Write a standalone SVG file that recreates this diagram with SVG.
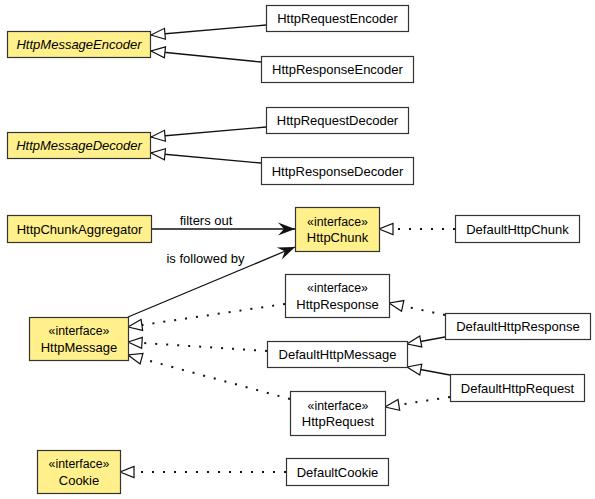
<svg xmlns="http://www.w3.org/2000/svg" width="595" height="499" viewBox="0 0 595 499">
<style>
text{font-family:"Liberation Sans",Arial,sans-serif;font-size:13px;fill:#000;text-anchor:middle}
.st{font-size:12.3px}
.it{font-style:italic}
.cls{fill:#fff;stroke:#333;stroke-width:1.2}
.ifc{fill:#fff08c;stroke:#333;stroke-width:1.2}
.e{fill:none;stroke:#111;stroke-width:1.3}
.d{fill:none;stroke:#111;stroke-width:2;stroke-dasharray:2 9}
.gen{marker-end:url(#tri)}
.dep{marker-end:url(#vee)}
</style>
<defs>
<marker id="tri" viewBox="-16 -8 18 16" refX="0" refY="0" markerWidth="18" markerHeight="16" markerUnits="userSpaceOnUse" orient="auto">
<path d="M0,0 L-14,-5.5 L-14,5.5 Z" fill="#fff" stroke="#111" stroke-width="1.2" stroke-dasharray="none"/>
</marker>
<marker id="vee" viewBox="-19 -9 21 18" refX="0" refY="0" markerWidth="21" markerHeight="18" markerUnits="userSpaceOnUse" orient="auto">
<path d="M0,0 L-17,-6.5 L-11,0 L-17,6.5 Z" fill="#111"/>
</marker>
</defs>
<g id="connectors">
<path class="e gen" d="M266,25 L151,35"/>
<path class="e gen" d="M261,62 L151,51"/>
<path class="e gen" d="M266,127 L151,137"/>
<path class="e gen" d="M261,163 L151,153"/>
<path class="e dep" d="M151,229 L295,229"/>
<text x="206" y="225">filters out</text>
<path class="e dep" d="M128,317 L295,247"/>
<text x="205.5" y="263">is followed by</text>
<path class="d gen" d="M455,229 L379,229"/>
<path class="d gen" d="M285,304 L128,327"/>
<path class="d gen" d="M267,351 L128,342"/>
<path class="d gen" d="M290,399 L128,355"/>
<path class="d gen" d="M445,315 L389,303"/>
<path class="e gen" d="M445,337 L407,344"/>
<path class="e gen" d="M450,375 L407,367"/>
<path class="d gen" d="M450,397 L385,407"/>
<path class="d gen" d="M286,472 L120,472"/>
</g>
<g id="HttpMessageEncoder"><rect class="ifc" x="7.5" y="31.5" width="143" height="26"/><text class="it" x="79" y="49">HttpMessageEncoder</text></g>
<g id="HttpMessageDecoder"><rect class="ifc" x="7.5" y="132.5" width="143" height="26"/><text class="it" x="79" y="150">HttpMessageDecoder</text></g>
<g id="HttpRequestEncoder"><rect class="cls" x="266.5" y="5.5" width="142" height="26"/><text x="337.5" y="23">HttpRequestEncoder</text></g>
<g id="HttpResponseEncoder"><rect class="cls" x="261.5" y="56.5" width="152" height="26"/><text x="337.5" y="74">HttpResponseEncoder</text></g>
<g id="HttpRequestDecoder"><rect class="cls" x="266.5" y="107.5" width="142" height="26"/><text x="337.5" y="125">HttpRequestDecoder</text></g>
<g id="HttpResponseDecoder"><rect class="cls" x="261.5" y="157.5" width="152" height="27"/><text x="337.5" y="175.5">HttpResponseDecoder</text></g>
<g id="HttpChunkAggregator"><rect class="ifc" x="7.5" y="215.5" width="144" height="27"/><text x="79.5" y="233.5">HttpChunkAggregator</text></g>
<g id="HttpChunk"><rect class="ifc" x="295.5" y="207.5" width="84" height="44"/><text class="st" x="337.5" y="225.5">«interface»</text><text x="337.5" y="241.5">HttpChunk</text></g>
<g id="DefaultHttpChunk"><rect class="cls" x="455.5" y="215.5" width="124" height="27"/><text x="517.5" y="233.5">DefaultHttpChunk</text></g>
<g id="HttpResponse"><rect class="cls" x="285.5" y="274.5" width="104" height="43"/><text class="st" x="337.5" y="292">«interface»</text><text x="337.5" y="308.5">HttpResponse</text></g>
<g id="HttpMessage"><rect class="ifc" x="29.5" y="317.5" width="99" height="43"/><text class="st" x="79" y="335">«interface»</text><text x="79" y="351.5">HttpMessage</text></g>
<g id="DefaultHttpResponse"><rect class="cls" x="445.5" y="313.5" width="145" height="26"/><text x="518" y="331">DefaultHttpResponse</text></g>
<g id="DefaultHttpMessage"><rect class="cls" x="267.5" y="341.5" width="140" height="26"/><text x="337.5" y="359">DefaultHttpMessage</text></g>
<g id="DefaultHttpRequest"><rect class="cls" x="450.5" y="374.5" width="134" height="27"/><text x="517.5" y="392.5">DefaultHttpRequest</text></g>
<g id="HttpRequest"><rect class="cls" x="290.5" y="391.5" width="95" height="44"/><text class="st" x="338" y="409.5">«interface»</text><text x="338" y="426">HttpRequest</text></g>
<g id="Cookie"><rect class="ifc" x="37.5" y="450.5" width="83" height="43"/><text class="st" x="79" y="468">«interface»</text><text x="79" y="484.5">Cookie</text></g>
<g id="DefaultCookie"><rect class="cls" x="286.5" y="458.5" width="102" height="27"/><text x="337.5" y="476.5">DefaultCookie</text></g>
</svg>
